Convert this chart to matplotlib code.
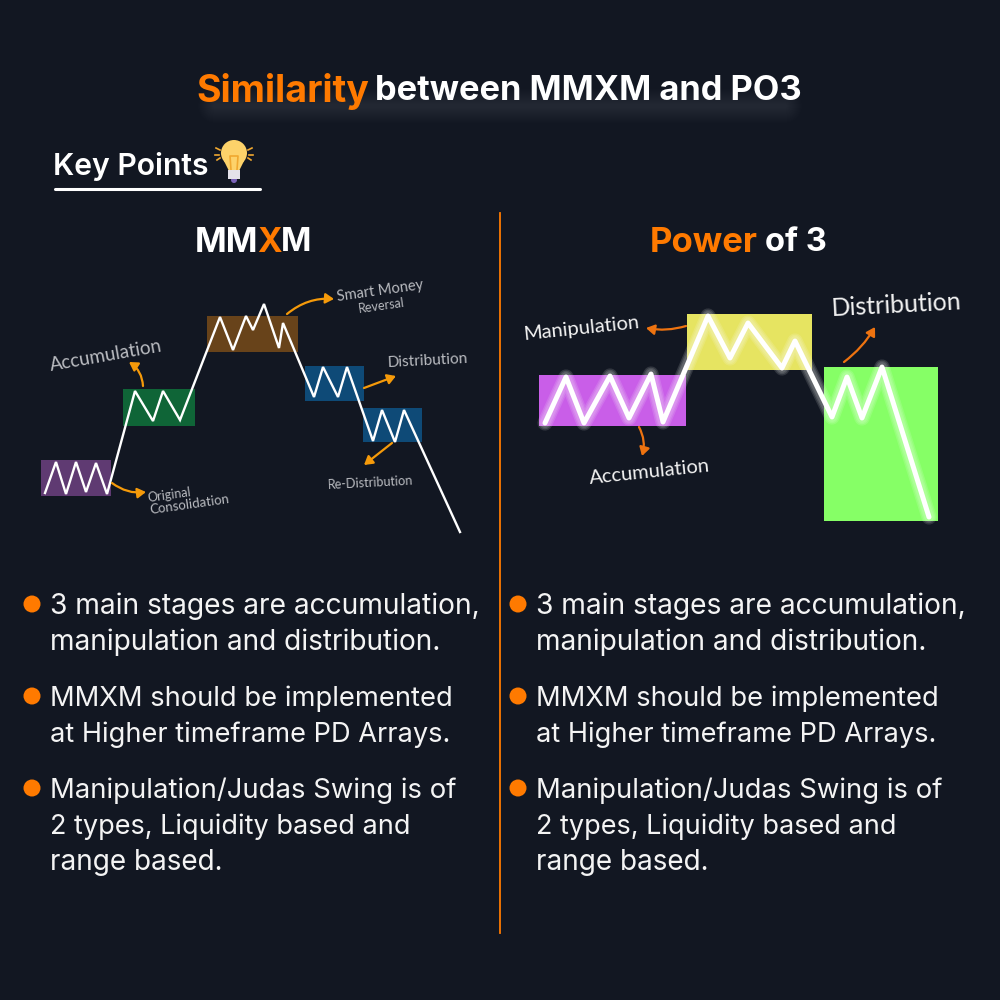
import matplotlib
matplotlib.use('Agg')
import matplotlib.pyplot as plt
import matplotlib.patches as patches
from matplotlib.patches import FancyArrowPatch

BG = '#121722'
ORANGE = '#ff7a00'
FONT = 'Inter'

# Left diagram, price path in picture pixels
left_x = [45, 56, 66, 76, 86, 96, 107, 135, 153, 163, 180, 220, 233, 246, 253, 264, 279, 283, 314, 323, 338, 347, 373, 382, 395, 404, 460]
left_y = [493, 462, 494, 462, 492, 463, 494, 391, 421, 391, 420, 317, 350, 316, 330, 304, 348, 323, 397, 367, 397, 367, 441, 410, 442, 410, 532]

# Left boxes: x0, y0, x1, y1, colour
left_boxes = [
    (41, 460, 111, 496, '#5f3a72'),
    (123, 389, 195, 426, '#0f6537'),
    (207, 316, 298, 352, '#68431a'),
    (305, 366, 364, 401, '#0e4a77'),
    (363, 408, 422, 442, '#0e4a77'),
]

# Right diagram, price path in picture pixels
right_x = [545, 566, 584, 610, 629, 651, 663, 708, 730, 748, 782, 795, 832, 847, 862, 882, 929]
right_y = [423, 377, 423, 376, 418, 374, 422, 316, 358, 323, 368, 341, 417, 377, 418, 367, 517]

right_boxes = [
    (539, 375, 686, 426, '#c95ee8'),
    (687, 314, 812, 370, '#e6e461'),
    (824, 367, 938, 521, '#86ff66'),
]

# Handwritten labels: text, x, y, size, rotation, colour
left_labels = [
    ('Accumulation', 106, 356, 13.6, 10, '#b9bbc0'),
    ('Smart Money', 380, 291, 10.5, 8, '#b9bbc0'),
    ('Reversal', 381, 306, 9, 8, '#b9bbc0'),
    ('Distribution', 428, 361, 11.1, 3, '#b9bbc0'),
    ('Re-Distribution', 370, 483, 9.1, 3, '#b9bbc0'),
    ('Original', 169, 495, 9, 8, '#b9bbc0'),
    ('Consolidation', 190, 504, 9.5, 8, '#b9bbc0'),
]
right_labels = [
    ('Manipulation', 581, 328, 14.5, 6, '#f2f2f2'),
    ('Accumulation', 650, 472, 14.5, 6, '#f2f2f2'),
    ('Distribution', 896, 305, 18, 3, '#f2f2f2'),
]

# Curved arrows: start, end, bend, colour
arrows = [
    ((143, 386), (129, 362), 0.25, '#f59a0a'),
    ((287, 314), (334, 299), -0.2, '#f59a0a'),
    ((364, 388), (396, 376), 0.0, '#f59a0a'),
    ((392, 443), (364, 465), 0.0, '#f59a0a'),
    ((112, 483), (146, 492), 0.2, '#f59a0a'),
    ((686, 326), (646, 328), -0.12, '#ee7310'),
    ((639, 427), (642, 456), -0.2, '#ee7310'),
    ((844, 362), (875, 327), 0.1, '#ee7310'),
]

bullets = [
    ['3 main stages are accumulation,', 'manipulation and distribution.'],
    ['MMXM should be implemented', 'at Higher timeframe PD Arrays.'],
    ['Manipulation/Judas Swing is of', '2 types, Liquidity based and', 'range based.'],
]
# Font size per line, so each line ends where the reference does
bullet_sizes = [
    [20.3, 20.2],
    [19.7, 19.6],
    [19.8, 19.5, 20.1],
]
bullet_y = [604, 696, 788]
column_x = [32, 518]
LINE_STEP = 36
TEXT_SHIFT = 2.5


def draw_glow(ax, xs, ys, colour, widths, alpha):
    for w in widths:
        ax.plot(xs, ys, color=colour, lw=w, alpha=alpha, solid_capstyle='round',
                solid_joinstyle='round', zorder=3)


def draw_bulb(ax):
    # Light bulb next to the Key Points heading
    ax.add_patch(patches.Circle((234, 153), 13, fc='#fdd26a', ec='none', zorder=3))
    ax.add_patch(patches.Polygon([(224, 161), (244, 161), (239, 171), (229, 171)],
                                 fc='#fdd26a', ec='none', zorder=3))
    ax.plot([231, 230, 238, 237], [170, 156, 156, 170], color='#f0a830', lw=1.2, zorder=4)
    ax.add_patch(patches.Rectangle((228, 170), 12, 9, fc='#e4e2ea', ec='none', zorder=4))
    ax.add_patch(patches.Circle((234, 180), 3, fc='#7a62b8', ec='none', zorder=3))
    for x0, y0, x1, y1 in [(216, 148, 220, 150), (215, 155, 219, 155), (217, 160, 220, 158),
                           (248, 150, 252, 148), (249, 155, 253, 155), (248, 158, 251, 160)]:
        ax.plot([x0, x1], [y0, y1], color='#f0a830', lw=1.2, zorder=3)


def main():
    fig = plt.figure(figsize=(10, 10), dpi=100, facecolor=BG)
    ax = fig.add_axes([0, 0, 1, 1])
    ax.set_xlim(0, 1000)
    ax.set_ylim(1000, 0)
    ax.axis('off')

    # Title with the soft band under it
    for w in range(4, 36, 2):
        ax.plot([215, 785], [106, 106], color='#ffffff', lw=w * 0.72, alpha=0.009,
                solid_capstyle='round', zorder=1)
    ax.text(196, 89 + TEXT_SHIFT, 'Similarity', color=ORANGE, fontsize=27, fontweight='bold',
            family=FONT, va='center', zorder=5)
    ax.text(375, 89 + TEXT_SHIFT, 'between MMXM and PO3', color='white', fontsize=24.8, fontweight='bold',
            family=FONT, va='center', zorder=5)

    # Key Points
    ax.text(53, 164 + TEXT_SHIFT, 'Key Points', color='white', fontsize=21.7, fontweight='semibold',
            family=FONT, va='center')
    ax.plot([55, 260], [189, 189], color='white', lw=2.2, solid_capstyle='round')
    draw_bulb(ax)

    # Column headings
    head_y = 240 + TEXT_SHIFT
    ax.text(195, head_y, 'MM', color='white', fontsize=24.5, fontweight='bold', family=FONT, va='center')
    ax.text(257, head_y, 'X', color=ORANGE, fontsize=24, fontweight='bold', family=FONT, va='center')
    ax.text(281, head_y, 'M', color='white', fontsize=23.5, fontweight='bold', family=FONT, va='center')
    ax.text(650, head_y, 'Power', color=ORANGE, fontsize=25, fontweight='bold', family=FONT, va='center')
    ax.text(765, head_y, 'of 3', color='white', fontsize=23.5, fontweight='bold', family=FONT, va='center')

    # Divider
    ax.plot([500, 500], [213, 933], color=ORANGE, lw=1.3)

    # Left diagram
    for x0, y0, x1, y1, c in left_boxes:
        ax.add_patch(patches.Rectangle((x0, y0), x1 - x0, y1 - y0, fc=c, ec='none', zorder=2))
    ax.plot(left_x, left_y, color='white', lw=1.7, solid_joinstyle='miter', zorder=3)

    # Right diagram
    for x0, y0, x1, y1, c in right_boxes:
        ax.add_patch(patches.Rectangle((x0, y0), x1 - x0, y1 - y0, fc=c, ec='none', zorder=2))
    draw_glow(ax, right_x, right_y, 'white', [11, 9, 7], 0.13)
    ax.plot(right_x, right_y, color='white', lw=3.6, solid_joinstyle='round',
            solid_capstyle='round', zorder=4)

    # Handwritten labels
    for txt, x, y, size, rot, c in left_labels + right_labels:
        ax.text(x, y, txt, color=c, fontsize=size, rotation=rot, ha='center', va='center',
                family='Lato', rotation_mode='anchor', zorder=5)

    for start, end, bend, c in arrows:
        ax.add_patch(FancyArrowPatch(start, end, connectionstyle=f'arc3,rad={bend}',
                                     arrowstyle='-|>,head_length=5,head_width=3',
                                     color=c, lw=1.6, zorder=5, shrinkA=0, shrinkB=0))

    # Bullet text
    for cx in column_x:
        for y, lines, sizes in zip(bullet_y, bullets, bullet_sizes):
            ax.add_patch(patches.Circle((cx, y), 8.5, fc=ORANGE, ec='none', zorder=3))
            for i, (line, size) in enumerate(zip(lines, sizes)):
                ax.text(cx + 18, y + i * LINE_STEP + TEXT_SHIFT, line, color='#f4f4f4', fontsize=size,
                        family=FONT, va='center')

    fig.savefig('out.png', dpi=100, facecolor=BG)


if __name__ == "__main__":
    main()
